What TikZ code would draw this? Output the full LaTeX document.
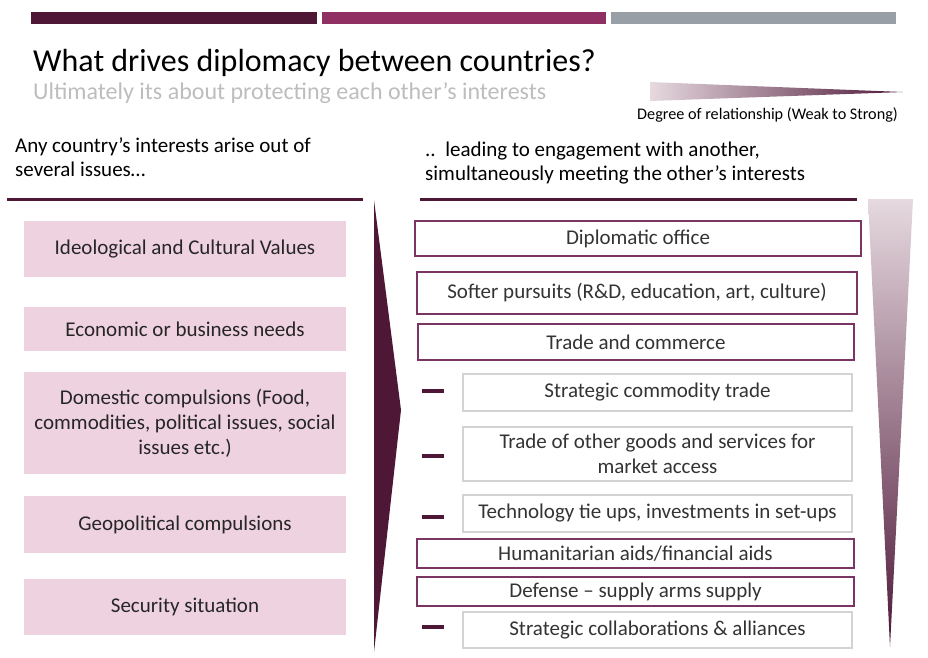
\documentclass[tikz,border=0pt]{standalone}
\usepackage{fontspec}
\setmainfont{Carlito}
\usepackage{tikz}
\usetikzlibrary{positioning}

\definecolor{wine}{HTML}{4E1735}
\definecolor{berry}{HTML}{8F2F62}
\definecolor{slate}{HTML}{989FA6}
\definecolor{plum}{HTML}{7A3562}
\definecolor{boxpink}{HTML}{EFD2E0}
\definecolor{lightgray}{HTML}{D3D3D3}
\definecolor{subgray}{HTML}{BDBDBD}
\definecolor{fade}{HTML}{E6D9DF}
\definecolor{deep}{HTML}{4E1838}

\tikzset{
    bodyfont/.style={font=\fontsize{21}{25}\selectfont},
    lbox/.style={bodyfont, fill=boxpink, minimum width=322pt, inner sep=0pt, align=center, text=black!85},
    rbox/.style={bodyfont, draw=plum, line width=2pt, inner sep=0pt, align=center, text=black!80},
    gbox/.style={bodyfont, draw=lightgray, line width=2pt, inner sep=0pt, align=center, text=black!80, minimum width=389pt},
    dashmark/.style={fill=wine, minimum width=22pt, minimum height=4pt, inner sep=0pt},
    bar/.style={minimum height=12pt, inner sep=0pt},
    rule/.style={draw=wine, line width=3pt}
}

\begin{document}
\begin{tikzpicture}[x=1pt,y=-1pt]
    \useasboundingbox (0,0) rectangle (928,657);
    \node[bar, fill=wine, minimum width=286pt] (b1) at (174,18) {};
    \node[bar, fill=berry, minimum width=284pt] (b2) at (464,18) {};
    \node[bar, fill=slate, minimum width=285pt] (b3) at (753.5,18) {};

    \node[anchor=base west, inner sep=0pt, font=\fontsize{32}{36}\selectfont] (T) at (33,71) {What drives diplomacy between countries?};
    \node[anchor=base west, inner sep=0pt, text=subgray, font=\fontsize{24}{28}\selectfont] (S) at (33,99) {Ultimately its about protecting each other’s interests};

    \shade[left color=fade, right color=deep] (650,82) -- (903,92) -- (650,101) -- cycle;
    \node[anchor=base east, inner sep=0pt, font=\fontsize{16.2}{19}\selectfont] (D) at (898,119) {Degree of relationship (Weak to Strong)};

    \node[anchor=north west, inner sep=0pt, align=left, font=\fontsize{21}{24}\selectfont] (HL) at (15,137) {Any country’s interests arise out of\\several issues…};
    \node[anchor=north west, inner sep=0pt, align=left, font=\fontsize{21}{24}\selectfont] (HR) at (425,142) {..\ \ leading to engagement with another,\\simultaneously meeting the other’s interests};
    \draw[rule] (7,199) -- (363,199);
    \draw[rule] (420,199) -- (857,199);

    \node[lbox, minimum height=56pt] (L1) at (185,249) {Ideological and Cultural Values};
    \node[lbox, minimum height=44pt] (L2) at (185,329) {Economic or business needs};
    \node[lbox, minimum height=102pt] (L3) at (185,423) {Domestic compulsions (Food,\\commodities, political issues, social\\issues etc.)};
    \node[lbox, minimum height=57pt] (L4) at (185,524.5) {Geopolitical compulsions};
    \node[lbox, minimum height=56pt] (L5) at (185,607) {Security situation};

    \fill[wine] (374,200) -- (401,410) -- (374,652) -- cycle;

    \node[rbox, minimum width=446pt, minimum height=35pt] (R1) at (638,238.5) {Diplomatic office};
    \node[rbox, minimum width=440pt, minimum height=42pt] (R2) at (637,293) {Softer pursuits (R\&D, education, art, culture)};
    \node[rbox, minimum width=436pt, minimum height=36pt] (R3) at (636,342) {Trade and commerce};
    \node[gbox, minimum height=37pt] (G1) at (657.5,392.5) {Strategic commodity trade};
    \node[gbox, minimum height=54pt] (G2) at (657.5,454) {Trade of other goods and services for\\market access};
    \node[gbox, minimum height=37pt] (G3) at (657.5,513.5) {Technology tie ups, investments in set-ups};
    \node[rbox, minimum width=437pt, minimum height=29pt] (R4) at (635.5,553.5) {Humanitarian aids/financial aids};
    \node[rbox, minimum width=437pt, minimum height=29pt] (R5) at (635.5,591.5) {Defense – supply arms supply};
    \node[gbox, minimum height=36pt] (G4) at (657.5,630) {Strategic collaborations \& alliances};

    \node[dashmark] (d1) at (433,391) {};
    \node[dashmark] (d2) at (433,456) {};
    \node[dashmark] (d3) at (433,517) {};
    \node[dashmark] (d4) at (433,627) {};

    \shade[top color=fade, bottom color=deep] (868,199) -- (913,199) -- (890,647) -- cycle;
\end{tikzpicture}
\end{document}
